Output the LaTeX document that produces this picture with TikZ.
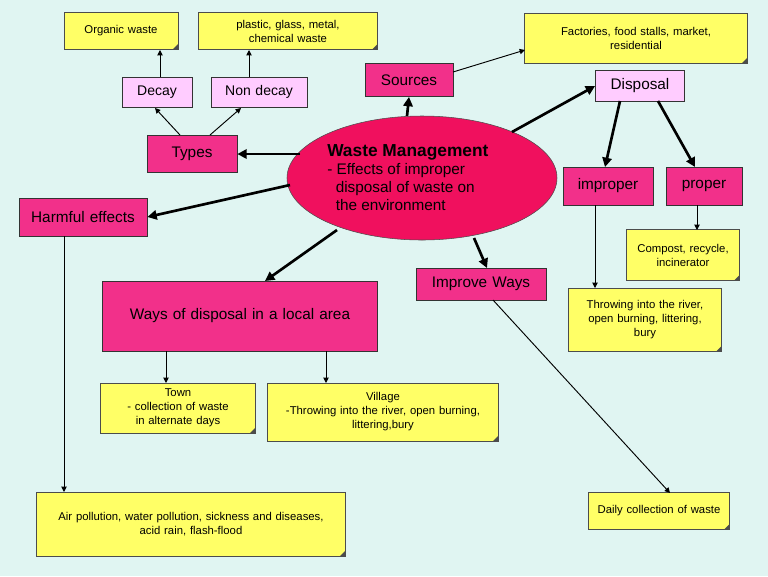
\documentclass[tikz,border=0pt]{standalone}
\usepackage{fontspec}
\setmainfont{Liberation Sans}
\usetikzlibrary{shapes.geometric,arrows.meta}
\definecolor{bg}{HTML}{E0F5F2}
\definecolor{hot}{HTML}{F2308A}
\definecolor{lp}{HTML}{FFCCFF}
\definecolor{yel}{HTML}{FFFF66}
\definecolor{ell}{HTML}{F0105E}
\begin{document}
\begin{tikzpicture}[x=0.75pt,y=-0.75pt,
 sz/.style n args={3}{minimum width=#1*0.75pt,minimum height=#2*0.75pt,text width=#3*0.75pt},
 box/.style={draw=black!80,line width=0.6pt,inner sep=1pt,align=center,font=\fontsize{11.5}{13}\selectfont},
 hotbox/.style={box,fill=hot},
 lpbox/.style={box,fill=lp,font=\fontsize{10.5}{12}\selectfont},
 note/.style={draw=black!70,line width=0.5pt,fill=yel,inner sep=1pt,align=center,font=\fontsize{8.5}{10.5}\selectfont},
 thick arr/.style={line width=2pt,-{Triangle[length=7pt,width=7pt]}},
 thin arr/.style={line width=0.7pt,-{Triangle[length=4pt,width=4pt]}}]
\newcommand{\myfold}[1]{\fill[black!70] (#1.south east) -- ++(-6,0) -- ++(6,-6) -- cycle;}
\fill[bg] (0,0) rectangle (768,576);
\useasboundingbox (0,0) rectangle (768,576);
\node[ellipse,draw=black!70,fill=ell,minimum width=270*0.75pt,minimum height=124*0.75pt,inner sep=0pt] (wm) at (422,178) {};
\node[anchor=north west,align=left,inner sep=0pt,font=\fontsize{11.5}{13.5}\selectfont] (wmt) at (327,144) {{\fontsize{13}{14}\selectfont\bfseries Waste Management}\\- Effects of improper\\\ \ disposal of waste on\\\ \ the environment};
\node[note,sz={114}{37}{110}] (org) at (121,31) {Organic waste}; \myfold{org}
\node[note,sz={179}{37}{175}] (pla) at (288,31) {plastic, glass, metal,\\chemical waste}; \myfold{pla}
\node[lpbox,sz={70}{30}{66}] (dec) at (157,92) {Decay};
\node[lpbox,sz={96}{30}{92}] (ndec) at (259,92) {Non decay};
\node[hotbox,sz={90}{37}{86}] (typ) at (192,154) {Types};
\node[hotbox,sz={88}{33}{84}] (src) at (409,80) {Sources};
\node[note,sz={223}{50}{215}] (fac) at (636,38) {Factories, food stalls, market,\\residential}; \myfold{fac}
\node[lpbox,sz={89}{31}{85},font=\fontsize{11.5}{13}\selectfont] (dis) at (640,86) {Disposal};
\node[hotbox,sz={128}{38}{124}] (harm) at (83,217) {Harmful effects};
\node[hotbox,sz={90}{38}{86}] (imp) at (608,186) {improper};
\node[hotbox,sz={76}{38}{72}] (prop) at (704,186) {proper};
\node[note,sz={113}{51}{109}] (comp) at (683,255) {Compost, recycle,\\incinerator}; \myfold{comp}
\node[note,sz={153}{63}{149}] (thr) at (645,320) {Throwing into the river,\\open burning, littering,\\bury}; \myfold{thr}
\node[hotbox,sz={130}{32}{126}] (impw) at (481,284) {Improve Ways};
\node[hotbox,sz={275}{70}{271}] (ways) at (240,316) {Ways of disposal in a local area};
\node[note,sz={155}{50}{151}] (town) at (178,408) {Town\\- collection of waste\\in alternate days}; \myfold{town}
\node[note,sz={231}{58}{227}] (vil) at (383,412) {Village\\-Throwing into the river, open burning,\\littering,bury}; \myfold{vil}
\node[note,sz={309}{64}{305}] (air) at (191,524) {Air pollution, water pollution, sickness and diseases,\\acid rain, flash-flood}; \myfold{air}
\node[note,sz={141}{37}{137}] (daily) at (659,511) {Daily collection of waste}; \myfold{daily}
% thick arrows
\draw[thick arr] (300,154) -- (typ.east);
\draw[thick arr] (407,116) -- (src.south);
\draw[thick arr] (512,132) -- (dis.west);
\draw[thick arr] (290,185) -- (harm.east);
\draw[thick arr] (337,230) -- (265,281);
\draw[thick arr] (474,238) -- (487,268);
\draw[thick arr] (620,101) -- (605,167);
\draw[thick arr] (658,101) -- (695,167);
% thin arrows
\draw[thin arr] (180,135) -- (155,108);
\draw[thin arr] (210,135) -- (241,108);
\draw[thin arr] (160,77) -- (160,50);
\draw[thin arr] (249,77) -- (249,50);
\draw[thin arr] (453,72) -- (525,50);
\draw[thin arr] (64,236) -- (64,492);
\draw[thin arr] (595,205) -- (595,288);
\draw[thin arr] (697,205) -- (697,230);
\draw[thin arr] (166,351) -- (166,383);
\draw[thin arr] (326,351) -- (326,383);
\draw[thin arr] (493,300) -- (670,493);
\end{tikzpicture}
\end{document}
